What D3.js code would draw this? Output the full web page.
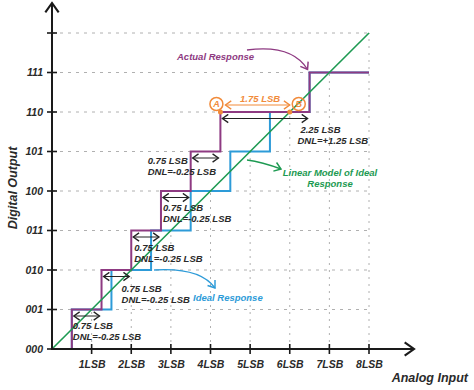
<!DOCTYPE html>
<html><head><meta charset="utf-8">
<script src="https://cdn.jsdelivr.net/npm/d3@7"></script>
<style>
html,body{margin:0;padding:0;background:#fff;}
text{font-family:"Liberation Sans",Arial,sans-serif;font-weight:bold;font-style:italic;}
</style></head>
<body><svg id="chart" width="474" height="390"></svg>
<script>
// ---- data ----
const xTickLabels = ["1LSB","2LSB","3LSB","4LSB","5LSB","6LSB","7LSB","8LSB"];
const yTickLabels = ["000","001","010","011","100","101","110","111"];
const fullScale = 8;                                   // LSB / codes span
const actualTransitions = [0.5,1.25,2.0,2.75,3.5,4.25,6.5];
const idealTransitions  = [0.5,1.5,2.5,3.5,4.5,5.5,6.5];
const missingWidth = {from:4.25, to:6.0, label:"1.75 LSB"}; // A -> B
const seriesNames = {actual:"Actual Response", ideal:"Ideal Response", linear:["Linear Model of Ideal","Response"]};

// ---- layout ----
const W = 474, H = 390;
const svg = d3.select("#chart");
const x = d3.scaleLinear().domain([0, fullScale]).range([52, 369]);
const y = d3.scaleLinear().domain([0, fullScale]).range([349, 33]);
const C = {purple:"#8e3a82", blue:"#2d9bd8", green:"#1d9a52", orange:"#f18b3b", grid:"#b0b0b0", axis:"#1a1a1a", text:"#2a2a2a"};

const defs = svg.append("defs");
function chevron(id, color, size){
  defs.append("marker").attr("id", id).attr("viewBox","-10 -6 12 12")
    .attr("refX", 0).attr("refY", 0).attr("markerWidth", size).attr("markerHeight", size)
    .attr("markerUnits","userSpaceOnUse").attr("orient","auto-start-reverse")
    .append("path").attr("d","M-7,-5 L0,0 L-7,5").attr("fill","none")
    .attr("stroke", color).attr("stroke-width", 1.6);
}
chevron("arrBlack", "#222", 10);
chevron("arrOrange", C.orange, 10);
chevron("arrPurple", C.purple, 11);
chevron("arrBlue", C.blue, 11);
chevron("arrGreen", C.green, 11);
chevron("arrAxis", C.axis, 16);

// ---- gridlines ----
const levels = d3.range(1, fullScale + 1);
svg.append("g").selectAll("line").data(levels).join("line")
  .attr("x1", x(0)).attr("x2", x(fullScale)).attr("y1", d => y(d)).attr("y2", d => y(d))
  .attr("stroke", C.grid).attr("stroke-width", 1).attr("stroke-dasharray", "3,5");
svg.append("g").selectAll("line").data(levels).join("line")
  .attr("x1", d => x(d)).attr("x2", d => x(d)).attr("y1", y(0)).attr("y2", d => y(d))
  .attr("stroke", C.grid).attr("stroke-width", 1).attr("stroke-dasharray", "2,5");

// ---- staircases ----
const stepLine = d3.line().x(d => x(d[0])).y(d => y(d[1])).curve(d3.curveStepAfter);
const idealPts = [[0,0]].concat(idealTransitions.map((t,i)=>[t,i+1]), [[fullScale, idealTransitions.length]]);
const actualPts = [[0,0]].concat(actualTransitions.map((t,i)=>[t,i+1]), [[fullScale, actualTransitions.length]]);
svg.append("path").attr("d", stepLine(idealPts)).attr("fill","none").attr("stroke", C.blue).attr("stroke-width", 2);
svg.append("path").attr("d", stepLine(actualPts)).attr("fill","none").attr("stroke", C.purple).attr("stroke-width", 2);

// linear model
svg.append("line").attr("x1", x(0)).attr("y1", y(0)).attr("x2", x(fullScale)).attr("y2", y(fullScale))
  .attr("stroke", C.green).attr("stroke-width", 1.6);

// ---- axes ----
const yAxisG = svg.append("g").attr("transform", `translate(${x(0)},0)`)
  .call(d3.axisLeft(y).tickValues(d3.range(0, fullScale + 1)).tickSize(0).tickPadding(9)
    .tickFormat(d => yTickLabels[d] || ""));
const xAxisG = svg.append("g").attr("transform", `translate(0,${y(0)})`)
  .call(d3.axisBottom(x).tickValues(d3.range(1, fullScale + 1)).tickSize(0).tickPadding(12)
    .tickFormat(d => xTickLabels[d - 1]));
[yAxisG, xAxisG].forEach(g => { g.select(".domain").remove();
  g.selectAll("text").attr("fill", C.text).style("font-size","10.5px"); });
// crossing tick marks
svg.append("g").selectAll("line").data(d3.range(0, fullScale + 1)).join("line")
  .attr("x1", x(0) - 5).attr("x2", x(0) + 5).attr("y1", d => y(d)).attr("y2", d => y(d))
  .attr("stroke", C.axis).attr("stroke-width", 1.6);
svg.append("g").selectAll("line").data(d3.range(1, fullScale + 1)).join("line")
  .attr("x1", d => x(d)).attr("x2", d => x(d)).attr("y1", y(0) - 5).attr("y2", y(0) + 5)
  .attr("stroke", C.axis).attr("stroke-width", 1.6);
svg.append("line").attr("x1", x(0)).attr("y1", y(0) + 1).attr("x2", x(0)).attr("y2", 3)
  .attr("stroke", C.axis).attr("stroke-width", 2).attr("marker-end","url(#arrAxis)");
svg.append("line").attr("x1", x(0) - 1).attr("y1", y(0)).attr("x2", 414).attr("y2", y(0))
  .attr("stroke", C.axis).attr("stroke-width", 2).attr("marker-end","url(#arrAxis)");
svg.append("text").attr("x", 468).attr("y", 382).attr("text-anchor","end")
  .attr("fill", C.text).style("font-size","12.5px").text("Analog Input");
svg.append("text").attr("transform", "translate(17,188) rotate(-90)").attr("text-anchor","middle")
  .attr("fill", C.text).style("font-size","12.5px").text("Digital Output");

// ---- step width / DNL annotations ----
const labelLayout = [ {dx:1, dy:19, anchor:"start"}, {dx:20, dy:22, anchor:"start"},
  {dx:3, dy:20, anchor:"start"}, {dx:2, dy:20, anchor:"start"},
  {dx:-43, dy:12, anchor:"start"}, {dx:77, dy:21, anchor:"start"} ];
const steps = d3.range(1, actualTransitions.length).map(k => {
  const a = actualTransitions[k-1], b = actualTransitions[k], w = b - a, dnl = w - 1;
  return {code:k, a, b, w:`${w.toFixed(2)} LSB`, dnl:`DNL=${dnl >= 0 ? "+" : "-"}${Math.abs(dnl).toFixed(2)} LSB`};
});
const ann = svg.append("g");
steps.forEach((s, i) => {
  const ly = y(s.code) + 6.5;
  ann.append("line").attr("x1", x(s.a) + 2).attr("x2", x(s.b) - 2).attr("y1", ly).attr("y2", ly)
    .attr("stroke", "#222").attr("stroke-width", 1)
    .attr("marker-start","url(#arrBlack)").attr("marker-end","url(#arrBlack)");
  const L = labelLayout[i], tx = x(s.a) + L.dx, ty = y(s.code) + L.dy;
  ann.append("text").attr("x", tx + (i === 5 ? 3 : 0)).attr("y", ty).attr("fill", C.text).style("font-size","9.5px").text(s.w);
  ann.append("text").attr("x", tx).attr("y", ty + 11).attr("fill", C.text).style("font-size","9.5px").text(s.dnl);
});

// ---- A / B missing-width marker ----
const topCode = actualTransitions.length - 1;
const oy = y(topCode);
const ax = x(missingWidth.from), bx = x(missingWidth.to);
const og = svg.append("g");
og.append("circle").attr("cx", ax).attr("cy", oy).attr("r", 2.5).attr("fill", C.orange);
og.append("circle").attr("cx", bx).attr("cy", oy).attr("r", 2.5).attr("fill", C.orange);
[[ax - 4, "A"], [bx + 9, "B"]].forEach(([cx, t]) => {
  og.append("circle").attr("cx", cx).attr("cy", oy - 8).attr("r", 6.5).attr("fill","none")
    .attr("stroke", C.orange).attr("stroke-width", 1.5);
  og.append("text").attr("x", cx).attr("y", oy - 4.7).attr("text-anchor","middle")
    .attr("fill", C.orange).style("font-size","9px").text(t);
});
og.append("line").attr("x1", ax + 5).attr("x2", bx + 0).attr("y1", oy - 7).attr("y2", oy - 7)
  .attr("stroke", C.orange).attr("stroke-width", 1.1)
  .attr("marker-start","url(#arrOrange)").attr("marker-end","url(#arrOrange)");
og.append("text").attr("x", (ax + bx) / 2 + 5).attr("y", oy - 10).attr("text-anchor","middle")
  .attr("fill", C.orange).style("font-size","9.5px").text(missingWidth.label);

// ---- series callouts ----
svg.append("text").attr("x", 177).attr("y", 60).attr("fill", C.purple).style("font-size","9.5px").text(seriesNames.actual);
svg.append("path").attr("d", `M247,50 Q292,44 ${x(actualTransitions[6]) - 2},${y(7) - 3}`)
  .attr("fill","none").attr("stroke", C.purple).attr("stroke-width", 1.4).attr("marker-end","url(#arrPurple)");

svg.append("text").attr("x", 193).attr("y", 301).attr("fill", C.blue).style("font-size","9.5px").text(seriesNames.ideal);
svg.append("path").attr("d", `M${x(idealTransitions[2]) + 3},${y(2)} Q200,267 215,288`)
  .attr("fill","none").attr("stroke", C.blue).attr("stroke-width", 1.4).attr("marker-end","url(#arrBlue)");

svg.append("text").attr("x", 330).attr("y", 176).attr("text-anchor","middle").attr("fill", C.green).style("font-size","9.5px").text(seriesNames.linear[0]);
svg.append("text").attr("x", 330).attr("y", 187).attr("text-anchor","middle").attr("fill", C.green).style("font-size","9.5px").text(seriesNames.linear[1]);
svg.append("path").attr("d", "M247,160 Q262,162 281,169")
  .attr("fill","none").attr("stroke", C.green).attr("stroke-width", 1.4).attr("marker-end","url(#arrGreen)");
</script></body></html>
